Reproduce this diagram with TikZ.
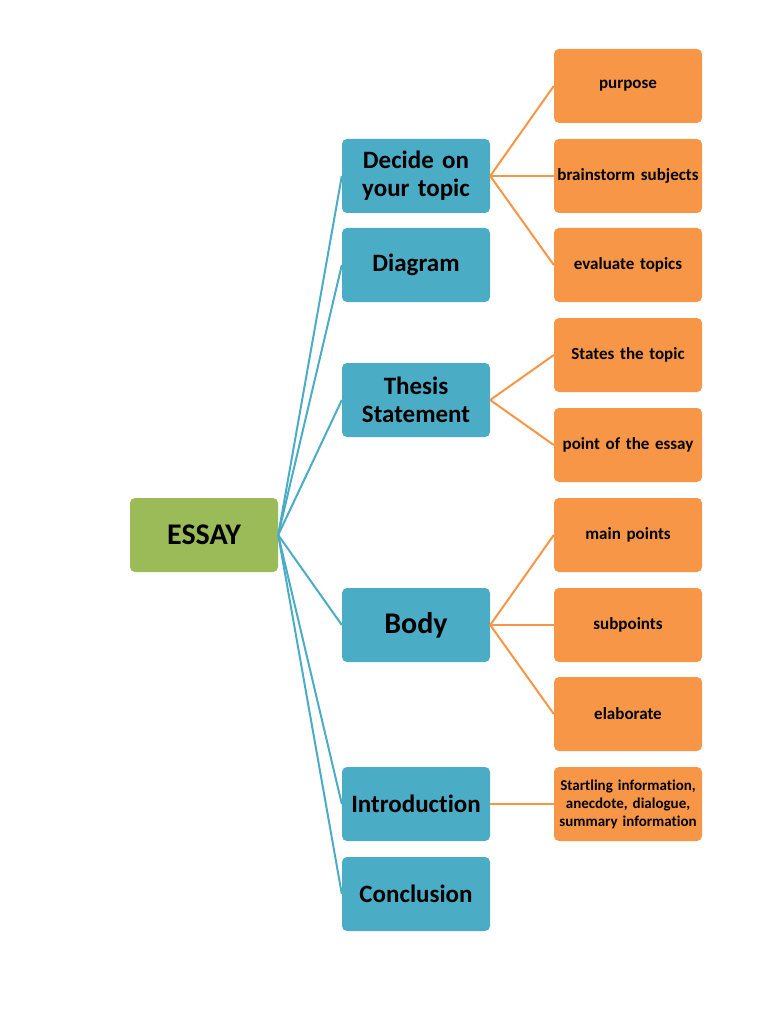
\documentclass[tikz,border=0pt]{standalone}
\usepackage{fontspec}
\setmainfont{Carlito}[Ligatures={NoCommon}]
\definecolor{essaygreen}{HTML}{9BBB59}
\definecolor{topicblue}{HTML}{4BACC6}
\definecolor{detailorange}{HTML}{F79646}

\begin{document}
\begin{tikzpicture}[
    x=1pt, y=-1pt,
    box/.style={rounded corners=5pt, minimum width=148pt, minimum height=74pt, text width=144pt, inner sep=2pt, align=center},
    essaybox/.style={box, fill=essaygreen, font=\bfseries\fontsize{30}{34}\selectfont},
    topicbox/.style={box, fill=topicblue, font=\bfseries\fontsize{25}{28}\selectfont},
    detailbox/.style={box, fill=detailorange, font=\bfseries\fontsize{17}{20}\selectfont},
    blueline/.style={topicblue, line width=2pt},
    orangeline/.style={detailorange, line width=2pt}
]

    \useasboundingbox (0,0) rectangle (768,1024);

    % Root
    \node[essaybox] (essay) at (204,535) {ESSAY};

    % Topics
    \node[topicbox] (decide) at (416,176) {Decide on\\your topic};
    \node[topicbox] (diagram) at (416,265) {Diagram};
    \node[topicbox] (thesis) at (416,400) {Thesis\\Statement};
    \node[topicbox, font=\bfseries\fontsize{30}{34}\selectfont] (body) at (416,625) {Body};
    \node[topicbox] (intro) at (416,804) {Introduction};
    \node[topicbox] (conclusion) at (416,894) {Conclusion};

    % Details
    \node[detailbox] (purpose) at (628,86) {purpose};
    \node[detailbox] (brainstorm) at (628,176) {brainstorm subjects};
    \node[detailbox] (evaluate) at (628,265) {evaluate topics};
    \node[detailbox] (states) at (628,355) {States the topic};
    \node[detailbox] (point) at (628,445) {point of the essay};
    \node[detailbox] (mainpts) at (628,535) {main points};
    \node[detailbox] (subpts) at (628,625) {subpoints};
    \node[detailbox] (elaborate) at (628,714) {elaborate};
    \node[detailbox, font=\bfseries\fontsize{15}{18}\selectfont] (startling) at (628,804) {Startling information,\\anecdote, dialogue,\\summary information};

    % Root to topics
    \foreach \t in {decide, diagram, thesis, body, intro, conclusion}
        \draw[blueline] (essay.east) -- (\t.west);

    % Topics to details
    \foreach \d in {purpose, brainstorm, evaluate}
        \draw[orangeline] (decide.east) -- (\d.west);
    \foreach \d in {states, point}
        \draw[orangeline] (thesis.east) -- (\d.west);
    \foreach \d in {mainpts, subpts, elaborate}
        \draw[orangeline] (body.east) -- (\d.west);
    \draw[orangeline] (intro.east) -- (startling.west);

\end{tikzpicture}
\end{document}
